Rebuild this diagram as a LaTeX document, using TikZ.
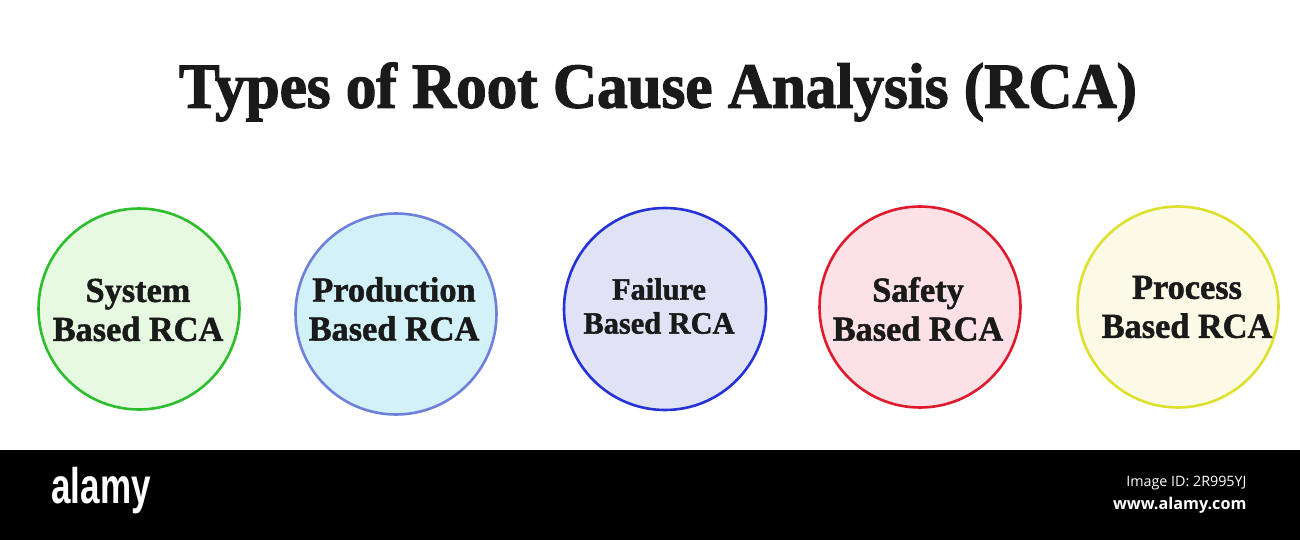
\documentclass[tikz,border=0pt]{standalone}
\usepackage{fontspec}
\setmainfont{Liberation Serif}
\newfontfamily\heavyfont{Liberation Serif Bold}[FakeBold=2]
\newfontfamily\labelfont{Liberation Serif Bold}[FakeBold=1.5]
\newfontfamily\barfont{Liberation Sans}
\newfontfamily\idfont{Open Sans}
\definecolor{gstroke}{HTML}{2DBE2D}\definecolor{gfill}{HTML}{E6F9E1}
\definecolor{pstroke}{HTML}{6E80DC}\definecolor{pfill}{HTML}{D3F1F8}
\definecolor{fstroke}{HTML}{2532D8}\definecolor{ffill}{HTML}{E0E2F6}
\definecolor{sstroke}{HTML}{E01A2C}\definecolor{sfill}{HTML}{FCE2E7}
\definecolor{ystroke}{HTML}{DEE02E}\definecolor{yfill}{HTML}{FAFAE6}
\definecolor{txt}{HTML}{1A1A1A}
\tikzset{
  rca/.style={circle, line width=2.6pt, minimum size=201pt, inner sep=0pt},
  rcatext/.style={align=center, text=txt, font=\labelfont\fontsize{35}{39}\selectfont, xscale=0.98},
}
\begin{document}
\begin{tikzpicture}[x=1pt,y=-1pt]
\useasboundingbox (0,0) rectangle (1300,540);
\fill[white] (0,0) rectangle (1300,540);
\fill[black] (0,450) rectangle (1300,540);
\node[text=txt, font=\heavyfont\fontsize{64}{64}\selectfont, xscale=0.955] (title) at (658,92) {Types of Root Cause Analysis (RCA)};
\node[rca, draw=gstroke, fill=gfill] (sys) at (139,309) {};
\node[rca, draw=pstroke, fill=pfill] (prod) at (396,314) {};
\node[rca, draw=fstroke, fill=ffill, minimum size=202pt] (fail) at (665,309) {};
\node[rca, draw=sstroke, fill=sfill] (safe) at (920,307) {};
\node[rca, draw=ystroke, fill=yfill] (proc) at (1178,307) {};
\node[rcatext] (tsys) at (138,310) {System\\Based RCA};
\node[rcatext] (tprod) at (394,309) {Production\\Based RCA};
\node[rcatext, font=\labelfont\fontsize{31}{34}\selectfont] (tfail) at (659,306) {Failure\\Based RCA};
\node[rcatext] (tsafe) at (918,309) {Safety\\Based RCA};
\node[rcatext] (tproc) at (1187,307) {Process\\Based RCA};
\node[text=white, font=\barfont\bfseries\fontsize{50}{50}\selectfont, xscale=0.7, anchor=base west] (alamy) at (49,503) {alamy};
\node[text=white, font=\idfont\fontsize{14.3}{15}\selectfont, anchor=east] (imgid) at (1250,483) {Image ID: 2R995YJ};
\node[text=white, font=\idfont\bfseries\fontsize{16.2}{17}\selectfont, anchor=east] (www) at (1250,505) {www.alamy.com};
\end{tikzpicture}
\end{document}
